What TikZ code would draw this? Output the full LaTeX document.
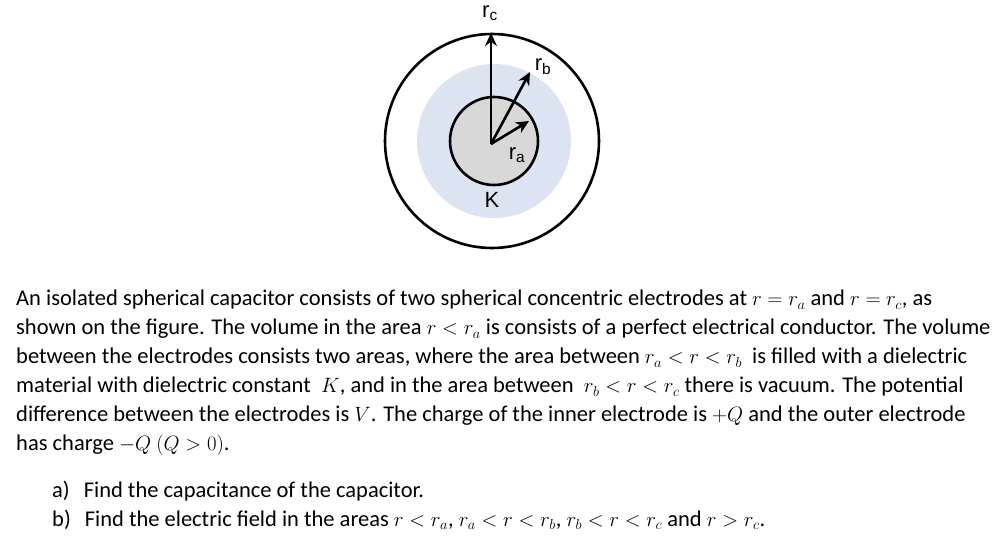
\documentclass[tikz,border=0pt]{standalone}
\usepackage{fontspec}
\setmainfont{Carlito}
\newfontfamily\arialf{Liberation Sans}
\usetikzlibrary{arrows.meta}
\begin{document}
\begin{tikzpicture}[x=1pt,y=-1pt,
  txt/.style={anchor=base west,inner sep=0pt,font=\fontsize{22.5}{26}\selectfont},
  lab/.style={inner sep=0pt,font=\arialf\fontsize{22}{24}\selectfont},
  arr/.style={line width=2.6pt,-{Stealth[length=13pt,width=12pt]}}]
\useasboundingbox (0,0) rectangle (997,537);
\fill[fill={rgb,255:red,220;green,228;blue,242}] (494,141) circle (77);
\draw[line width=2.6pt] (492,141) circle (107);
\draw[line width=2.6pt,fill={rgb,255:red,216;green,216;blue,216}] (494,141) circle (44);
\coordinate (o) at (491,144);
\coordinate (c) at (491,33);
\coordinate (b) at (530,72);
\coordinate (a) at (529,121);
\draw[arr] (o) -- (c);
\draw[arr] (o) -- (b);
\draw[arr] (o) -- (a);
\node[lab] (lc) at (490,13) {r\textsubscript{c}};
\node[lab] (lb) at (543,67) {r\textsubscript{b}};
\node[lab] (la) at (517,155) {r\textsubscript{a}};
\node[lab] (lk) at (492,200) {K};
\node[txt] (t1) at (16,306) {An isolated spherical capacitor consists of two spherical concentric electrodes at $r=r_a$ and $r=r_c$, as};
\node[txt] (t2) at (16,335) {shown on the figure. The volume in the area $r<r_a$ is consists of a perfect electrical conductor. The volume};
\node[txt] (t3) at (16,364) {between the electrodes consists two areas, where the area between $r_a<r<r_b$\ \ is filled with a dielectric};
\node[txt] (t4) at (16,393) {material with dielectric constant\ \ $K$, and in the area between\ \ $r_b<r<r_c$ there is vacuum. The potential};
\node[txt] (t5) at (16,422) {difference between the electrodes is $V$. The charge of the inner electrode is $+Q$ and the outer electrode};
\node[txt] (t6) at (16,451) {has charge $-Q$ $(Q>0)$.};
\node[txt] (l1) at (52,497) {a)\hspace{14pt}Find the capacitance of the capacitor.};
\node[txt] (l2) at (52,526) {b)\hspace{14pt}Find the electric field in the areas $r<r_a$, $r_a<r<r_b$, $r_b<r<r_c$ and $r>r_c$.};
\end{tikzpicture}
\end{document}
